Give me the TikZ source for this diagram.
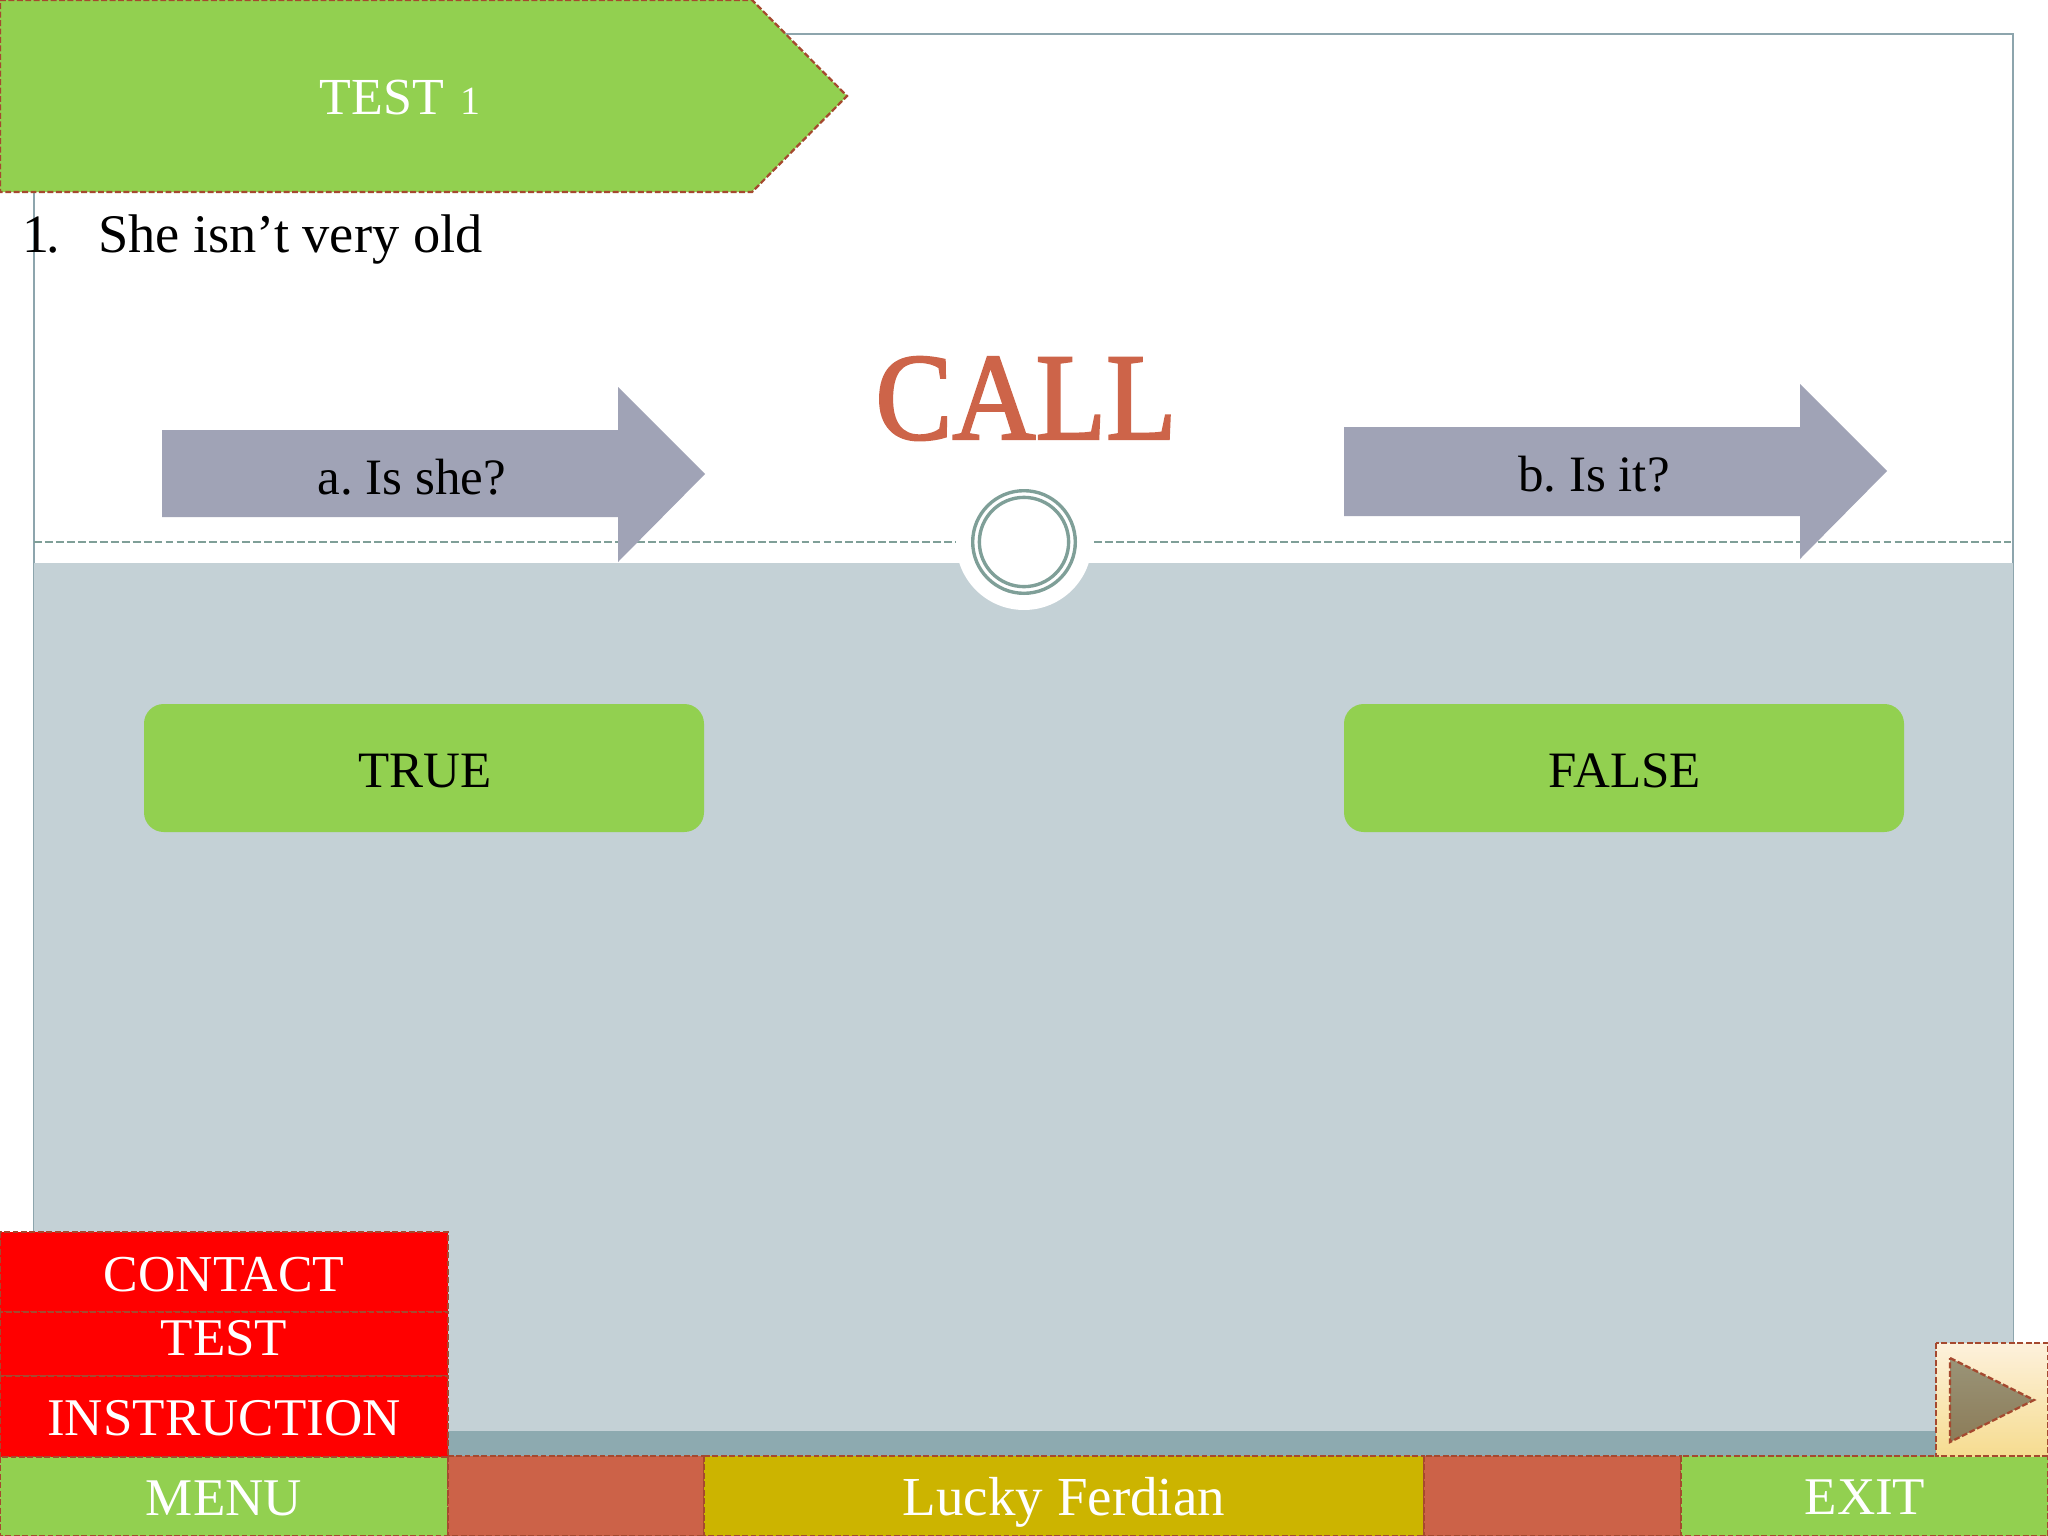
\documentclass[tikz,border=0pt]{standalone}
\usepackage{fontspec}
\setmainfont{Liberation Serif}
\definecolor{gr}{HTML}{92D050}
\definecolor{bord}{HTML}{A5492F}
\definecolor{panel}{HTML}{C4D1D6}
\definecolor{band}{HTML}{8DAAB0}
\definecolor{framec}{HTML}{8DA5AD}
\definecolor{ringc}{HTML}{7F9F98}
\definecolor{arrowc}{HTML}{A0A3B6}
\definecolor{callc}{HTML}{CD6449}
\definecolor{redbar}{HTML}{CC6248}
\definecolor{gold}{HTML}{CCB400}
\definecolor{navtop}{HTML}{FDF1DC}
\definecolor{navbot}{HTML}{F6DC90}
\definecolor{tritop}{HTML}{9A9478}
\definecolor{tribot}{HTML}{8C7C58}
\newcommand{\fz}[1]{\fontsize{\dimexpr#1pt*7113/10000\relax}{\dimexpr#1pt*8/10\relax}\selectfont}
\newfontfamily\callfont[FakeBold=2]{Liberation Serif}
\tikzset{
  x=0.25mm,y=-0.25mm,
  dashb/.style={draw=bord,line width=1.6pt,dash pattern=on 4.2pt off 1.8pt},
  dashl/.style={ringc,line width=2pt,dash pattern=on 5.6pt off 2.2pt},
  lbl/.style={inner sep=0pt,anchor=base,text=black,font=\fz{52}},
  wlbl/.style={lbl,text=white},
}
\begin{document}
\frenchspacing
\begin{tikzpicture}
\useasboundingbox (0,0) rectangle (2048,1536);
\fill[white] (0,0) rectangle (2048,1536);
% frame + panel
\draw[framec,line width=1.2pt] (34,34) rectangle (2013,1440);
\fill[panel] (34,563) rectangle (2013,1431);
\fill[band] (34,1431) rectangle (2013,1456);
% center medallion
\fill[white] (1024,542) circle (68);
\draw[dashl] (34,542) -- (956,542);
\draw[dashl] (1094,542) -- (2011,542);
\node[circle,draw=ringc,line width=2.4pt,fill=white,minimum size=73pt,inner sep=0pt] (ringo) at (1024,542) {};
\node[circle,draw=ringc,line width=2.4pt,fill=white,minimum size=63.5pt,inner sep=0pt] (ringi) at (1024,542) {};
% arrows
\fill[arrowc] (162,430) -- (618,430) -- (618,387) -- (705,474) -- (618,562) -- (618,517) -- (162,517) -- cycle;
\fill[arrowc] (1344,427) -- (1800,427) -- (1800,384) -- (1887,471) -- (1800,559) -- (1800,516) -- (1344,516) -- cycle;
\node[lbl,font=\fz{51}] (a) at (412,494) {a. Is she?};
\node[lbl,font=\fz{51}] (b) at (1594,491) {b. Is it?};
% title
\node[lbl,font=\callfont\fz{124},text=callc,xscale=.93] (call) at (1026,439) {CALL};
% buttons
\fill[gr,rounded corners=14pt] (144,704) rectangle (704,832);
\fill[gr,rounded corners=14pt] (1344,704) rectangle (1904,832);
\node[lbl,font=\fz{51}] (t) at (425,787) {TRUE};
\node[lbl,font=\fz{51}] (f) at (1625,787) {FALSE};
% pentagon
\filldraw[fill=gr,dashb] (0,0) -- (752,0) -- (847,96) -- (752,192) -- (0,192) -- cycle;
\node[wlbl] (test1) at (400,115) {TEST\kern2pt\ {\fz{40}1}};
\node[lbl,font=\fz{54},anchor=base west] (num) at (22,252) {1\kern-0.05em.};
\node[lbl,font=\fz{54.4},anchor=base west] (q) at (98,252) {She isn’t very old};
% left menu
\filldraw[fill=red,dashb] (0,1232) rectangle (448,1312);
\filldraw[fill=red,dashb] (0,1312) rectangle (448,1376);
\filldraw[fill=red,dashb] (0,1376) rectangle (448,1457);
\node[wlbl,font=\fz{51.8}] (c) at (224,1291) {CONTACT};
\node[wlbl,font=\fz{53}] (te) at (224,1355) {TEST};
\node[wlbl,font=\fz{53}] (in) at (224,1435) {INSTRUCTION};
% bottom bar
\filldraw[fill=gr,dashb] (0,1457) rectangle (448,1536);
\filldraw[fill=redbar,dashb] (448,1456) rectangle (704,1536);
\filldraw[fill=gold,dashb] (704,1456) rectangle (1424,1536);
\filldraw[fill=redbar,dashb] (1424,1456) rectangle (1681,1536);
\filldraw[fill=gr,dashb] (1681,1456) rectangle (2048,1536);
\node[wlbl,font=\fz{53}] (m) at (224,1515) {MENU};
\node[wlbl,font=\fz{55}] (l) at (1064,1515) {Lucky Ferdian};
\node[wlbl,font=\fz{53}] (e) at (1865,1514) {EXIT};
% nav
\shade[top color=navtop,bottom color=navbot] (1936,1343) rectangle (2048,1456);
\draw[dashb] (1936,1343) rectangle (2048,1456);
\shade[top color=tritop,bottom color=tribot] (1950,1358) -- (2034,1400) -- (1950,1442) -- cycle;
\draw[dashb] (1950,1358) -- (2034,1400) -- (1950,1442) -- cycle;
\end{tikzpicture}
\end{document}
